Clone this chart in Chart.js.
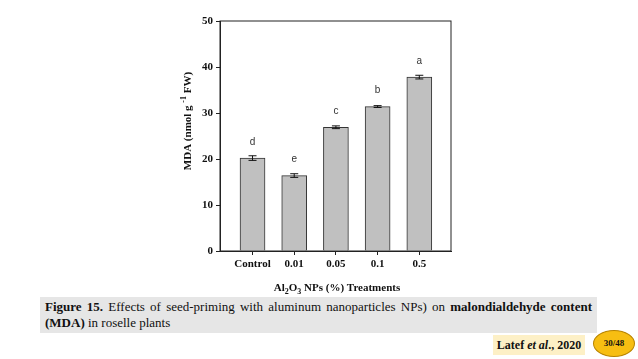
<!DOCTYPE html>
<html>
<head>
<meta charset="utf-8">
<script src="https://cdn.jsdelivr.net/npm/chart.js@4"></script>
<style>
  body { margin: 0; background: #fff; }
  #wrap { position: relative; width: 638px; height: 359px; overflow: hidden; }
  #chartBox { position: absolute; left: 0; top: 0; width: 638px; height: 359px; }
  #caption {
    position: absolute; left: 40px; top: 297px; width: 547px; height: 32px;
    padding: 2px 5px; background: #e6e6e6;
    font: 13px "Liberation Serif", serif; line-height: 16px; color: #111;
    text-align: justify;
  }
  #cite {
    position: absolute; left: 493px; top: 335px; width: 92px; height: 20px;
    background: #fdf0c6; font: bold 12px "Liberation Serif", serif; line-height: 20px;
    text-align: center; color: #111;
  }
  #page {
    position: absolute; left: 593px; top: 330px; width: 40px; height: 25px;
    border: 1px solid #b88400; border-radius: 50%; background: #f7be12;
    font: bold 9px "Liberation Serif", serif; line-height: 25px; text-align: center; color: #111;
  }
</style>
</head>
<body>
<div id="wrap">
  <div id="chartBox"><canvas id="mdaChart"></canvas></div>
  <div id="caption"><b>Figure 15.</b> Effects of seed-priming with aluminum nanoparticles NPs) on <b>malondialdehyde content (MDA)</b> in roselle plants</div>
  <div id="cite">Latef <i>et al</i>., 2020</div>
  <div id="page">30/48</div>
</div>
<script>
// Chart data
const treatments = ['Control', '0.01', '0.05', '0.1', '0.5'];
const mdaValues = [20.2, 16.4, 26.9, 31.4, 37.8];
const mdaErrors = [0.5, 0.4, 0.3, 0.2, 0.4];
const groupLetters = ['d', 'e', 'c', 'b', 'a'];
const yTicks = [0, 10, 20, 30, 40, 50];

const serifBold = 'bold 11px "Liberation Serif", serif';

// error bars, letters, frame and axis titles
const extras = {
  id: 'extras',
  afterDatasetsDraw(chart) {
    const ctx = chart.ctx;
    const x = chart.scales.x, y = chart.scales.y;
    const area = chart.chartArea;
    ctx.save();
    ctx.strokeStyle = '#111';
    ctx.lineWidth = 1;
    mdaValues.forEach((v, i) => {
      const px = x.getPixelForValue(i);
      const top = y.getPixelForValue(v + mdaErrors[i]);
      const bot = y.getPixelForValue(v - mdaErrors[i]);
      ctx.beginPath();
      ctx.moveTo(px, top); ctx.lineTo(px, bot);
      ctx.moveTo(px - 4, top); ctx.lineTo(px + 4, top);
      ctx.moveTo(px - 4, bot); ctx.lineTo(px + 4, bot);
      ctx.stroke();
      ctx.fillStyle = '#333';
      ctx.font = '10px "Liberation Sans", Arial, sans-serif';
      ctx.textAlign = 'center';
      ctx.textBaseline = 'middle';
      ctx.fillText(groupLetters[i], px, y.getPixelForValue(v) - 16);
    });
    // box around plot
    ctx.strokeStyle = '#222';
    ctx.strokeRect(area.left, area.top, area.right - area.left, area.bottom - area.top);

    // x title with subscripts
    ctx.fillStyle = '#111';
    ctx.textBaseline = 'alphabetic';
    ctx.textAlign = 'left';
    const subFont = 'bold 8px "Liberation Serif", serif';
    const xParts = [['Al', serifBold, 0], ['2', subFont, 3], ['O', serifBold, 0], ['3', subFont, 3], [' NPs (%) Treatments', serifBold, 0]];
    let w = 0;
    xParts.forEach(p => { ctx.font = p[1]; w += ctx.measureText(p[0]).width; });
    let cx = 337 - w / 2;
    xParts.forEach(p => { ctx.font = p[1]; ctx.fillText(p[0], cx, 291 + p[2]); cx += ctx.measureText(p[0]).width; });

    // y title with superscript
    const yParts = [['MDA (nmol g ', serifBold, 0], ['-1', subFont, -5], [' FW)', serifBold, 0]];
    w = 0;
    yParts.forEach(p => { ctx.font = p[1]; w += ctx.measureText(p[0]).width; });
    ctx.translate(191, 121);
    ctx.rotate(-Math.PI / 2);
    cx = -w / 2;
    yParts.forEach(p => { ctx.font = p[1]; ctx.fillText(p[0], cx, p[2]); cx += ctx.measureText(p[0]).width; });
    ctx.restore();
  }
};

const ctx = document.getElementById('mdaChart').getContext('2d');
const mdaChart = new Chart(ctx, {
  type: 'bar',
  data: {
    datasets: [{
      label: 'MDA',
      data: mdaValues.map((v, i) => ({ x: i, y: v })),
      backgroundColor: '#c0c0c0',
      borderColor: '#333',
      borderWidth: 1,
      barThickness: 25
    }]
  },
  options: {
    responsive: true,
    maintainAspectRatio: false,
    animation: false,
    layout: { padding: { left: 190, right: 187, top: 21, bottom: 78 } },
    plugins: { legend: { display: false }, tooltip: { enabled: false } },
    scales: {
      x: {
        type: 'linear',
        min: -0.78,
        max: 4.76,
        offset: false,
        afterFit(s) { s.height = 30; },
        grid: { offset: false, drawOnChartArea: false, color: '#222', tickLength: 4 },
        border: { display: true, color: '#222' },
        ticks: {
          stepSize: 1,
          includeBounds: false,
          padding: 3,
          color: '#111',
          font: { family: '"Liberation Serif", serif', size: 11, weight: 'bold' },
          callback: v => treatments[v] ?? ''
        }
      },
      y: {
        min: 0,
        max: 50,
        afterFit(s) { s.width = 30; },
        afterBuildTicks(s) { s.ticks = yTicks.map(v => ({ value: v })); },
        grid: { drawOnChartArea: false, color: '#222', tickLength: 4 },
        border: { display: true, color: '#222' },
        ticks: {
          padding: 3,
          color: '#111',
          font: { family: '"Liberation Serif", serif', size: 11, weight: 'bold' }
        }
      }
    }
  },
  plugins: [extras]
});
</script>
</body>
</html>
